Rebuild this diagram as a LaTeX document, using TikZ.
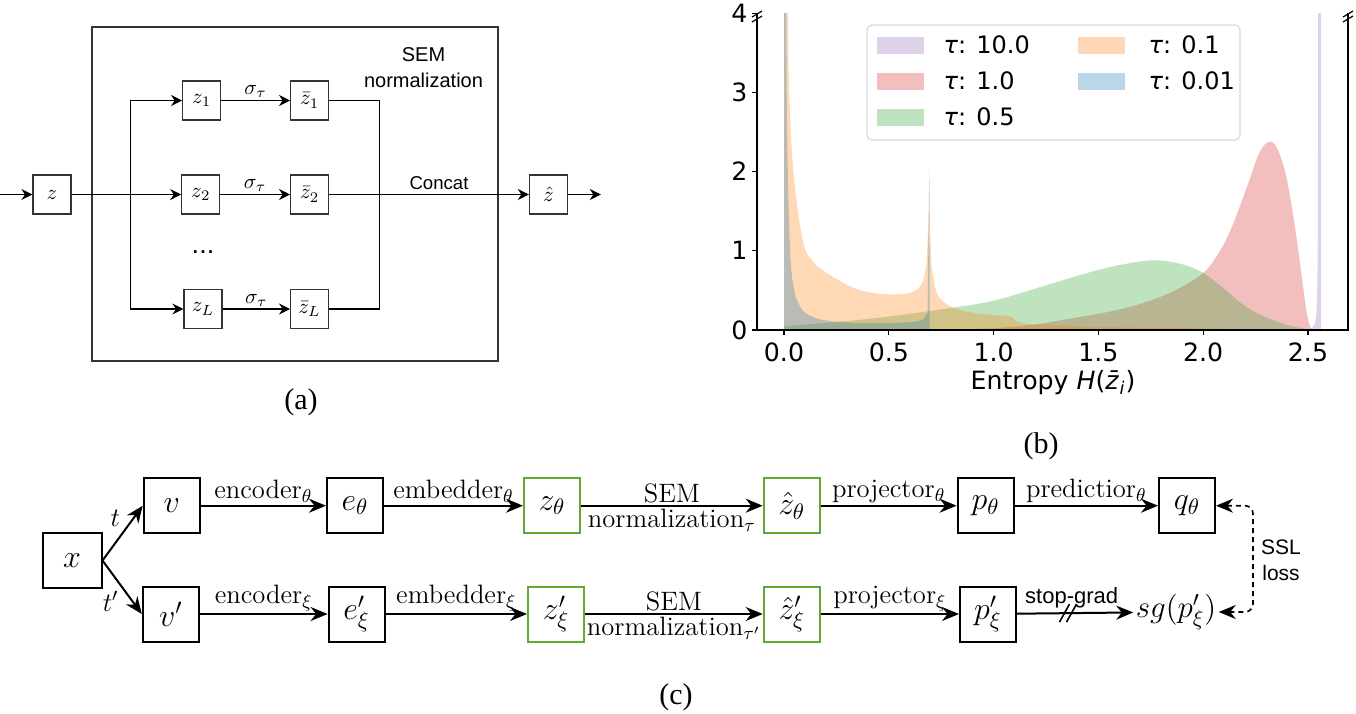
\RequirePackage{fix-cm}
\documentclass[tikz,border=0pt]{standalone}
\usepackage{fontspec}
\newfontfamily\pltfont{DejaVu Sans}
\newfontfamily\arialfont{Liberation Sans}
\newfontfamily\timesfont{Liberation Serif}
\usetikzlibrary{arrows.meta}

\definecolor{tabpurple}{RGB}{148,103,189}
\definecolor{taborange}{RGB}{255,127,14}
\definecolor{tabred}{RGB}{214,39,40}
\definecolor{tabblue}{RGB}{31,119,180}
\definecolor{tabgreen}{RGB}{44,160,44}
\definecolor{semgreen}{RGB}{100,168,50}

\tikzstyle{blk}=[shape=rectangle,
                draw=black!80,
                minimum height=19.5pt,
                minimum width=19pt,
                line width=0.6pt,
                font=\fontsize{10.5}{12}\selectfont]
\tikzstyle{cblk}=[shape=rectangle,
                draw=black,
                minimum height=27.5pt,
                minimum width=28pt,
                line width=1pt,
                font=\fontsize{16}{19}\selectfont]
\tikzstyle{gblk}=[cblk, draw=semgreen]
\tikzstyle{aarr}=[-{Stealth[length=5.5pt,width=5.5pt]}, line width=0.6pt]
\tikzstyle{carr}=[-{Stealth[length=8.5pt,width=7pt]}, line width=1pt]
\tikzstyle{darr}=[{Stealth[length=8.5pt,width=7pt]}-{Stealth[length=8.5pt,width=7pt]},
                line width=0.8pt, dash pattern=on 2.5pt off 2pt, rounded corners=4pt]
\tikzstyle{elab}=[font=\fontsize{13.3}{16}\selectfont, inner sep=1pt]
\tikzstyle{slab}=[font=\arialfont\fontsize{10}{13}\selectfont, align=center]
\tikzstyle{dens}=[fill opacity=0.3]
\tikzstyle{ticklab}=[font=\pltfont\fontsize{12.6}{14}\selectfont, inner sep=0pt]
\tikzstyle{legtxt}=[font=\pltfont\fontsize{12}{14}\selectfont, anchor=west, inner sep=0pt]
\tikzstyle{capt}=[font=\timesfont\fontsize{15}{18}\selectfont]

\begin{document}
\begin{tikzpicture}[>=stealth,semithick,x=0.5pt,y=-0.5pt]
\useasboundingbox (0,0) rectangle (1356,713);

% (a) SEM block
\draw[line width=0.6pt, black!80] (92,27) rectangle (498,361);
\node[blk] (z)   at (52,194.5)    {$z$};
\node[blk] (z1)  at (201.6,100.5) {$z_1$};
\node[blk] (z2)  at (200.8,194.5) {$z_2$};
\node[blk] (zL)  at (203,309)     {$z_L$};
\node[blk] (zb1) at (309.6,100.5) {$\bar{z}_1$};
\node[blk] (zb2) at (309.6,194.5) {$\bar{z}_2$};
\node[blk] (zbL) at (309.6,309)   {$\bar{z}_L$};
\node[blk] (zh)  at (548.4,194.5) {$\hat{z}$};
\node[font=\arialfont\fontsize{13.5}{15}\selectfont, inner sep=0pt] (dots) at (203,252) {...};
\node[slab] (semlab) at (423.5,68) {SEM\\normalization};
\coordinate (ain)   at (0,194.5);
\coordinate (split) at (130.7,194.5);
\coordinate (merge) at (379.7,194.5);
\coordinate (aout)  at (600.8,194.5);

% paths (arrows) in (a)
\draw[aarr] (ain) -- (z);
\draw[line width=0.6pt] (z) -- (split);
\draw[aarr] (split) -- (z2);
\draw[aarr] (split) |- (z1);
\draw[aarr] (split) |- (zL);
\path[aarr] (z1) edge node[above,inner sep=1pt,font=\fontsize{10.5}{12}\selectfont] {$\sigma_\tau$} (zb1)
            (z2) edge node[above,inner sep=1pt,font=\fontsize{10.5}{12}\selectfont] {$\sigma_\tau$} (zb2)
            (zL) edge node[above,inner sep=1pt,font=\fontsize{10.5}{12}\selectfont] {$\sigma_\tau$} (zbL);
\draw[line width=0.6pt] (zb1) -| (merge);
\draw[line width=0.6pt] (zbL) -| (merge);
\draw[aarr] (zb2) -- node[pos=0.55,above,inner sep=2pt,font=\arialfont\fontsize{9.3}{11}\selectfont] {Concat} (zh);
\draw[aarr] (zh) -- (aout);
\node[capt] (capa) at (301,402) {(a)};

% (b) entropy densities
\begin{scope}[shift={(784,330)}, x=104.8pt, y=39.6pt]
\begin{scope}
\clip (-0.129,0) rectangle (2.691,4.0);
\fill[tabpurple, dens] (2.50,0) -- plot[smooth,tension=0.6] coordinates {(2.50,0) (2.52,0.03) (2.535,0.12) (2.543,0.4) (2.547,1.2)}
      -- (2.549,4.3) -- (2.563,4.3) -- (2.563,0) -- cycle;
\fill[tabred, dens] (0.3,0) -- plot[smooth,tension=0.6] coordinates {(0.3,0) (0.8,0.01) (1.0,0.025) (1.2,0.07) (1.38,0.15)
      (1.55,0.23) (1.7,0.33) (1.85,0.48) (2.0,0.72) (2.08,1.0) (2.13,1.26) (2.18,1.6) (2.22,1.89) (2.27,2.25) (2.32,2.38)
      (2.36,2.25) (2.40,1.89) (2.44,1.26) (2.47,0.68) (2.495,0.2) (2.515,0.02) (2.53,0)} -- cycle;
\fill[tabgreen, dens] (0,0) -- plot[smooth,tension=0.6] coordinates {(0,0.05) (0.25,0.1) (0.5,0.17) (0.8,0.28) (1.0,0.37)
      (1.22,0.54) (1.46,0.73) (1.62,0.83) (1.77,0.88) (1.9,0.83) (2.0,0.72) (2.1,0.52) (2.17,0.36) (2.25,0.22) (2.33,0.13)
      (2.42,0.05) (2.5,0.01) (2.55,0)} -- cycle;
\fill[taborange, dens] (0,0) -- (0,4.3) -- (0.018,4.3) -- plot[smooth,tension=0.6] coordinates {(0.02,3.8) (0.025,3) (0.045,2)
      (0.09,1.12) (0.14,0.86) (0.205,0.72) (0.3,0.57) (0.37,0.5) (0.45,0.46) (0.55,0.45) (0.62,0.49) (0.66,0.6) (0.68,0.85)}
      -- (0.690,1.4) -- (0.693,2.05) -- (0.696,1.3) -- plot[smooth,tension=0.6] coordinates {(0.703,0.85) (0.73,0.46) (0.8,0.29)
      (0.9,0.22) (1.0,0.19) (1.08,0.17) (1.12,0.1) (1.2,0.07) (1.5,0.04) (2.0,0.02) (2.3,0)} -- cycle;
\fill[tabblue, dens] (0,0) -- (0,4.3) -- (0.01,4.3) -- plot[smooth,tension=0.6] coordinates {(0.013,3) (0.018,2) (0.029,1)
      (0.045,0.55) (0.07,0.33) (0.11,0.2) (0.2,0.12) (0.35,0.09) (0.5,0.09) (0.6,0.1) (0.66,0.13) (0.685,0.22)}
      -- (0.6925,1.9) -- (0.6935,1.9) -- (0.695,0) -- cycle;
\end{scope}
% axes
\draw[line width=0.6pt] (-0.129,4.0) -- (-0.129,0) -- (2.691,0) -- (2.691,4.0);
\foreach \xv/\xl in {0/0.0,0.5/0.5,1/1.0,1.5/1.5,2/2.0,2.5/2.5} {
  \draw[line width=0.6pt] (\xv,0) -- ++(0pt,-2.5pt);
  \node[ticklab] at (\xv,-0.278) {\xl};
}
\foreach \yv in {0,...,4} {
  \draw[line width=0.6pt] (-0.129,\yv) -- ++(-2.5pt,0pt);
  \node[ticklab, anchor=east, xshift=-4.5pt] at (-0.129,\yv) {\yv};
}
\end{scope}
% break marks
\foreach \sx in {757,1348} {
  \draw[line width=0.6pt] (\sx-5,17) -- (\sx+5,11);
  \draw[line width=0.6pt] (\sx-5,22) -- (\sx+5,16);
}
\node[ticklab] (xlab) at (1053,383) {Entropy \textit{H}(\textit{\={z}}\textsubscript{\textit{i}})};

% legend
\draw[rounded corners=2.5pt, draw=black!15, fill=white, fill opacity=0.8] (867,25) rectangle (1240,140);
\fill[tabpurple, dens] (877,36.5) rectangle (924,53.5);
\fill[tabred, dens]    (877,72.5) rectangle (924,89.5);
\fill[tabgreen, dens]  (877,108.5) rectangle (924,125.5);
\fill[taborange, dens] (1078,36.5) rectangle (1125,53.5);
\fill[tabblue, dens]   (1078,72.5) rectangle (1125,89.5);
\node[legtxt] (l1) at (943,45)   {\textit{τ}: 10.0};
\node[legtxt] (l2) at (943,81)   {\textit{τ}: 1.0};
\node[legtxt] (l3) at (943,117)  {\textit{τ}: 0.5};
\node[legtxt] (l4) at (1148,45)  {\textit{τ}: 0.1};
\node[legtxt] (l5) at (1148,81)  {\textit{τ}: 0.01};
\node[capt] (capb) at (1041,446) {(b)};

% (c) online branch
\node[cblk, minimum width=29.5pt] (x) at (72,560.5) {$x$};
\node[cblk] (v)   at (171.7,505.7) {$v$};
\node[cblk] (et)  at (355,505.7)   {$e_\theta$};
\node[gblk] (zt)  at (552,505.7)   {$z_\theta$};
\node[gblk] (zht) at (791.7,505.7) {$\hat{z}_\theta$};
\node[cblk] (pt)  at (985.6,505.7) {$p_\theta$};
\node[cblk] (qt)  at (1187,505.7)  {$q_\theta$};

% (c) target branch
\node[cblk] (v2)  at (170.8,614)   {$v'$};
\node[cblk] (ex)  at (356.6,614)   {$e'_\xi$};
\node[gblk] (zx)  at (556,614)     {$z'_\xi$};
\node[gblk] (zhx) at (791.7,614)   {$\hat{z}'_\xi$};
\node[cblk] (px)  at (988,614)     {$p'_\xi$};
\node[inner sep=1pt, font=\fontsize{15.5}{18}\selectfont] (sg) at (1176,612) {$sg(p'_\xi)$};

% paths (arrows) in (c)
\draw[carr] (x.east) -- node[elab, pos=0.77, left=5.2pt] {$t$} (v.west);
\draw[carr] (x.east) -- node[elab, pos=0.76, left=5.5pt] {$t'$} (v2.west);
\draw[carr] (v) -- node[elab,above] {encoder$_\theta$} (et);
\draw[carr] (et) -- node[elab,above] {embedder$_\theta$} (zt);
\draw[carr] (zt) -- node[elab,above] {SEM} node[elab,below] {normalization$_\tau$} (zht);
\draw[carr] (zht) -- node[elab,above] {projector$_\theta$} (pt);
\draw[carr] (pt) -- node[elab,above] {predictior$_\theta$} (qt);
\draw[carr] (v2) -- node[elab,above] {encoder$_\xi$} (ex);
\draw[carr] (ex) -- node[elab,above] {embedder$_\xi$} (zx);
\draw[carr] (zx) -- node[elab,above] {SEM} node[elab,below] {normalization$_{\tau'}$} (zhx);
\draw[carr] (zhx) -- node[elab,above] {projector$_\xi$} (px);
\draw[carr] (px) -- node[pos=0.47,above,inner sep=2pt,font=\arialfont\fontsize{11}{13}\selectfont] {stop-grad}
            coordinate[pos=0.46] (cut) (sg);
\draw[line width=0.8pt] ([shift={(-11,9)}]cut) -- ([shift={(-1,-9)}]cut);
\draw[line width=0.8pt] ([shift={(-4,9)}]cut) -- ([shift={(6,-9)}]cut);
\draw[darr] (qt.east) -- ++(37,0) |- (sg.east);
\node[slab, font=\arialfont\fontsize{10.5}{13}\selectfont] (ssl) at (1281,560) {SSL\\loss};
\node[capt] (capc) at (676,697) {(c)};
\end{tikzpicture}
\end{document}
